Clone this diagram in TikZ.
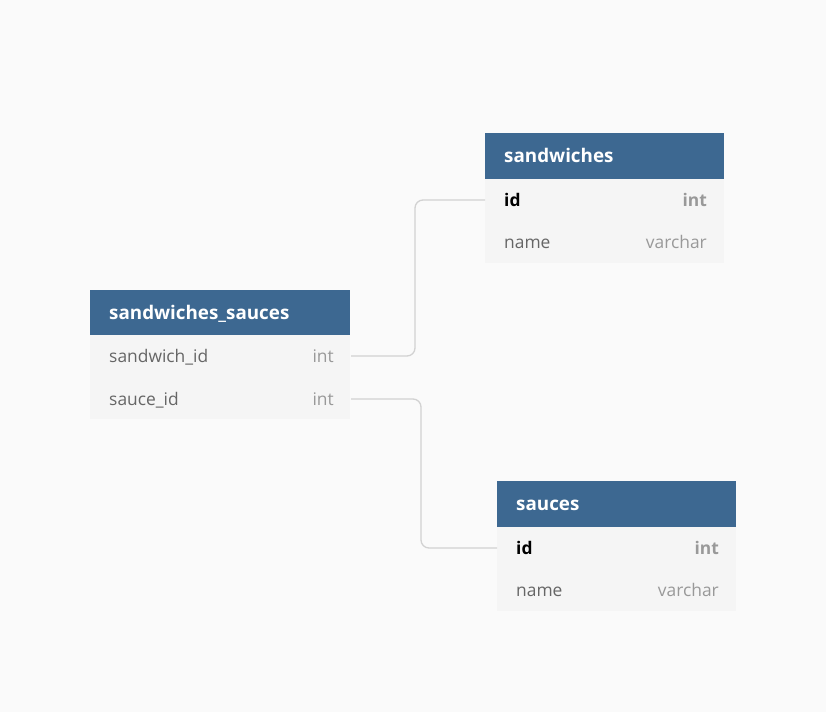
\documentclass[tikz,border=0pt]{standalone}
\usepackage{fontspec}
\setmainfont{Open Sans}
\definecolor{bg}{HTML}{FAFAFA}
\definecolor{hdr}{HTML}{3D6891}
\definecolor{body}{HTML}{F5F5F5}
\definecolor{fld}{HTML}{666666}
\definecolor{typ}{HTML}{999999}
\definecolor{lnk}{HTML}{D2D2D2}
\begin{document}
\begin{tikzpicture}[x=1pt,y=-1pt,
  hdrbox/.style={fill=hdr,draw=none},
  bodybox/.style={fill=body,draw=none},
  hdrtext/.style={text=white,font=\fontsize{18.8}{22}\selectfont\bfseries,anchor=mid west,inner sep=0,yshift=-4pt},
  fldtext/.style={text=fld,font=\fontsize{17.4}{20}\selectfont,anchor=mid west,inner sep=0,yshift=-4pt},
  keytext/.style={text=black,font=\fontsize{17.4}{20}\selectfont\bfseries,anchor=mid west,inner sep=0,yshift=-4pt},
  typtext/.style={text=typ,font=\fontsize{17.4}{20}\selectfont,anchor=mid east,inner sep=0,yshift=-4pt},
  keytyp/.style={text=typ,font=\fontsize{17.4}{20}\selectfont\bfseries,anchor=mid east,inner sep=0,yshift=-4pt},
  link/.style={draw=lnk,line width=1.3pt,rounded corners=8pt}]
\useasboundingbox[fill=bg] (0,0) rectangle (826,712);
% sandwiches
\fill[bodybox] (485,179) rectangle (724,263);
\fill[hdrbox] (485,133) rectangle (724,179);
\node[hdrtext] (sT) at (504,156) {sandwiches};
\node[keytext] (sId) at (504,200) {id};
\node[keytyp] (sIdT) at (707,200) {int};
\node[fldtext] (sName) at (504,242) {name};
\node[typtext] (sNameT) at (707,242) {varchar};
\coordinate (sL) at (485,200);
% sandwiches_sauces
\fill[bodybox] (90,335) rectangle (350,419);
\fill[hdrbox] (90,290) rectangle (350,335);
\node[hdrtext] (jT) at (109,313) {sandwiches\_sauces};
\node[fldtext] (jA) at (109,356) {sandwich\_id};
\node[typtext] (jAT) at (334,356) {int};
\node[fldtext] (jB) at (109,399) {sauce\_id};
\node[typtext] (jBT) at (334,399) {int};
\coordinate (jAR) at (351,356);
\coordinate (jBR) at (351,399);
% sauces
\fill[bodybox] (497,527) rectangle (736,611);
\fill[hdrbox] (497,481) rectangle (736,527);
\node[hdrtext] (cT) at (516,504) {sauces};
\node[keytext] (cId) at (516,548) {id};
\node[keytyp] (cIdT) at (719,548) {int};
\node[fldtext] (cName) at (516,590) {name};
\node[typtext] (cNameT) at (719,590) {varchar};
\coordinate (cL) at (497,548);
% links
\draw[link] (jAR) -| (415,200) -- (sL);
\draw[link] (jBR) -| (421,548) -- (cL);
\end{tikzpicture}
\end{document}
